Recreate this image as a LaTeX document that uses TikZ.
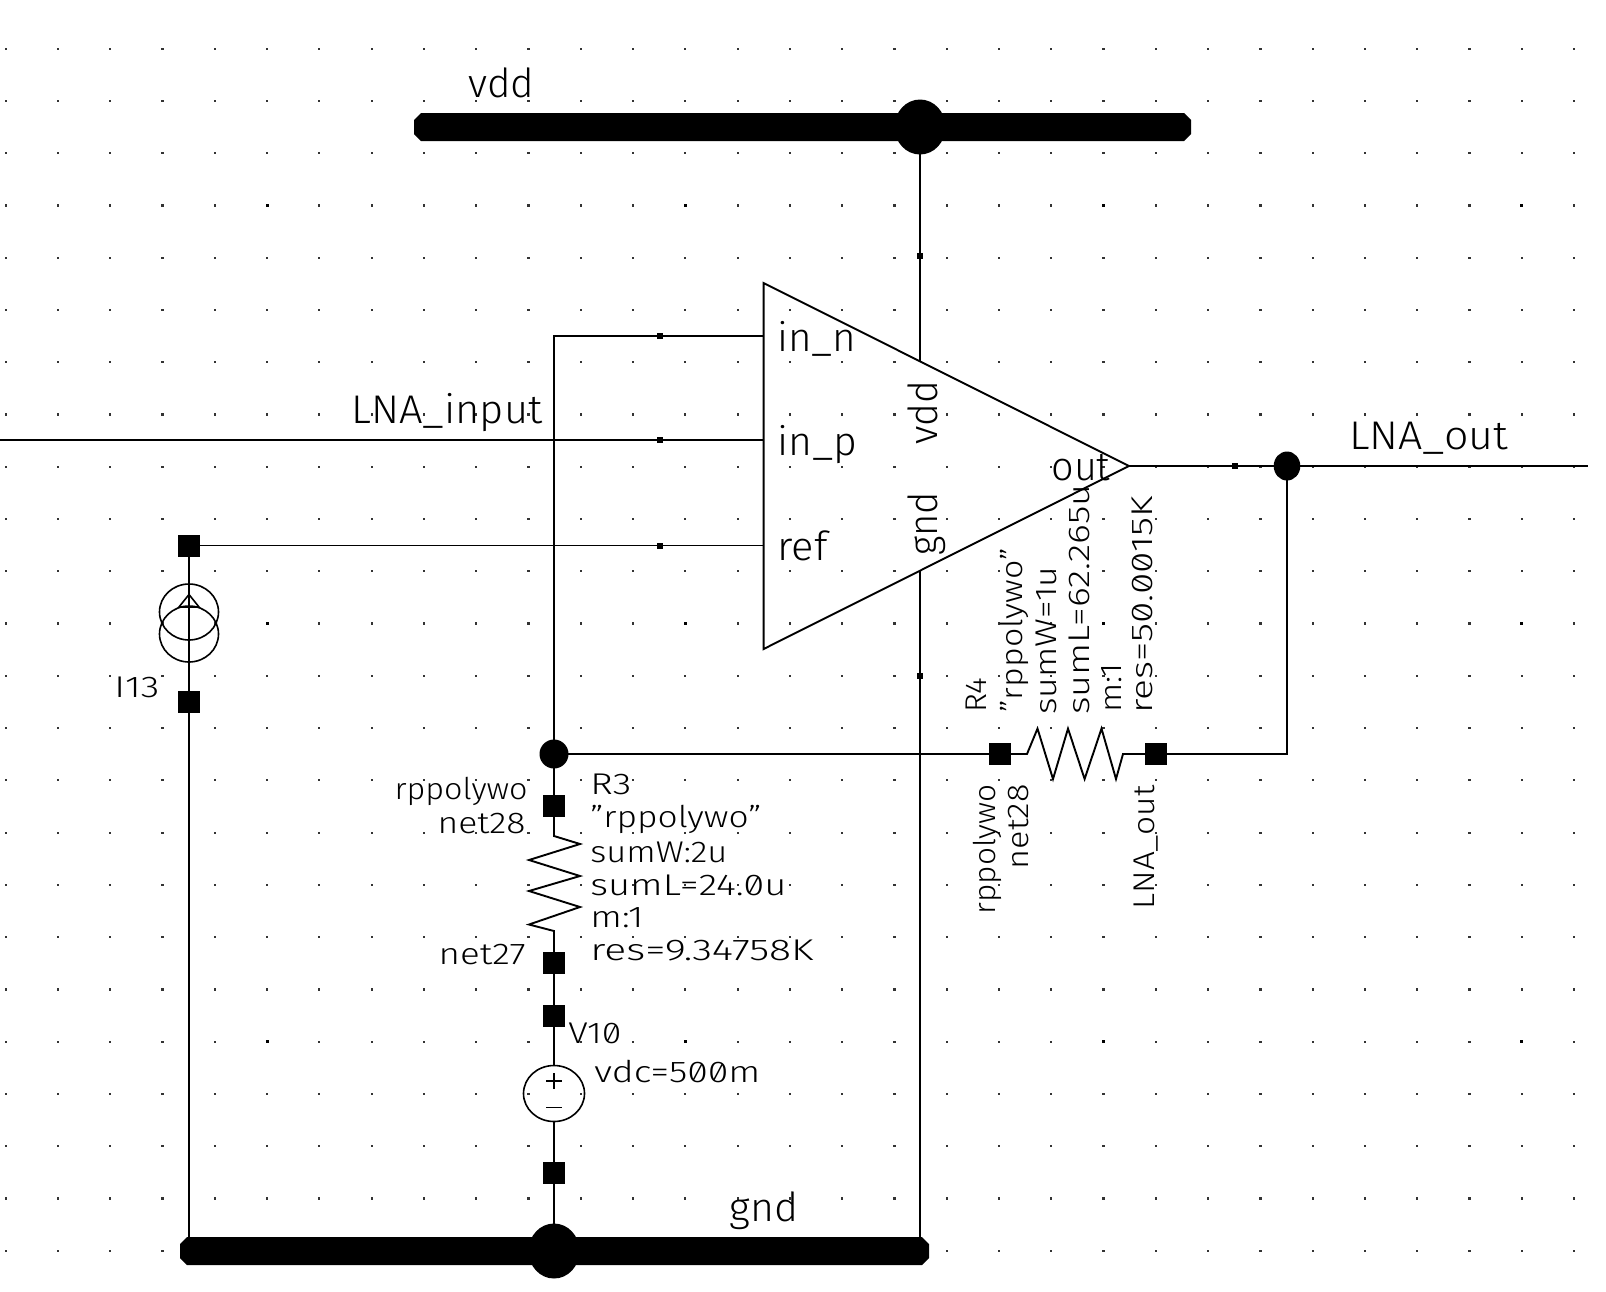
\documentclass[tikz,border=0pt]{standalone}
\usepackage{fontspec}
\setmainfont[Numbers=SlashedZero]{Fira Sans Light}
\usetikzlibrary{shapes.geometric}
\newcommand{\wt}[2]{\resizebox{\dimexpr #1pt/2\relax}{\height}{#2}}
\tikzset{
  wire/.style={line width=0.95pt,black,line join=miter},
  bar/.style={fill=black,draw=none},
  junction/.style={ellipse,fill=black,inner sep=0pt,minimum width=#1},
  pinsq/.style={rectangle,fill=black,inner sep=0pt,minimum size=11pt},
  tinysq/.style={rectangle,fill=black,inner sep=0pt,minimum size=3pt},
  biglab/.style={inner sep=0pt,anchor=base west,font=\fontsize{20}{24}\selectfont,text=black},
  smalllab/.style={inner sep=0pt,anchor=base west,font=\fontsize{15}{18}\selectfont,text=black},
}
\begin{document}
\begin{tikzpicture}[x=0.5pt,y=-0.5pt]
\useasboundingbox (0,0) rectangle (1606,1291);
\fill[white] (0,0) rectangle (1606,1291);
% grid
\foreach \k in {0,...,30}{\foreach \j in {0,...,23}{
  \fill[black!80] ({5.6+52.28*\k-1},{48.5+52.27*\j-1}) rectangle +(2.2,2.2);
}}
\foreach \k in {5,13,21,29}{\foreach \j in {3,11,19}{
  \fill[black] ({5.6+52.28*\k-1.3},{48.5+52.27*\j-1.6}) rectangle +(2.8,3.2);
}}
% rails
\fill[bar] (414,120) -- (421,113) -- (1184,113) -- (1191,120) -- (1191,134) -- (1184,141) -- (421,141) -- (414,134) -- cycle;
\fill[bar] (180,1244) -- (187,1237) -- (922,1237) -- (929,1244) -- (929,1258) -- (922,1265) -- (187,1265) -- (180,1258) -- cycle;
% amplifier
\coordinate (ampin) at (763.6,336);
\coordinate (ampip) at (763.6,440);
\coordinate (ampref) at (763.6,545.5);
\coordinate (ampout) at (1129,466);
\coordinate (ampvdd) at (920,362);
\coordinate (ampgnd) at (920,571);
\coordinate (inedge) at (0,440);
\coordinate (outedge) at (1588,466);
\draw[wire] (763.6,283) -- (ampout) -- (763.6,649) -- cycle;
% nodes
\node[junction=25.5pt,minimum height=27.5pt] (vddj) at (920,127) {};
\node[junction=25.5pt,minimum height=27.5pt] (gndj) at (554,1251) {};
\node[junction=14.5pt,minimum height=14.5pt] (fbj) at (554,754) {};
\node[junction=13.3pt,minimum height=14.5pt] (outj) at (1287,466) {};
\node[pinsq] (ia) at (189,545.5) {};
\node[pinsq] (ib) at (189,702) {};
\node[pinsq] (r3a) at (554,805.6) {};
\node[pinsq] (r3b) at (554,963) {};
\node[pinsq] (va) at (554,1016) {};
\node[pinsq] (vb) at (554,1173) {};
\node[pinsq] (r4a) at (999.6,754) {};
\node[pinsq] (r4b) at (1156,754) {};
\node[tinysq] (s1) at (659.5,336) {};
\node[tinysq] (s2) at (659.5,440) {};
\node[tinysq] (s3) at (659.5,545.5) {};
\node[tinysq] (s4) at (920,256) {};
\node[tinysq] (s5) at (920,675.6) {};
\node[tinysq] (s6) at (1234.6,466) {};
\coordinate (ibgnd) at (189,1251);
\coordinate (gndr) at (920,1251);
% wires
\draw[wire] (vddj.center) -- (s4.center) -- (ampvdd);
\draw[wire] (ampgnd) -- (s5.center) -- (gndr);
\draw[wire] (fbj.center) -- (554,336) -- (s1.center) -- (ampin);
\draw[wire] (inedge) -- (s2.center) -- (ampip);
\draw[wire] (ia.center) -- (s3.center) -- (ampref);
\draw[wire] (ampout) -- (s6.center) -- (outj.center) -- (outedge);
\draw[wire] (ia.center) -- (ib.center) -- (ibgnd);
\draw[wire] (fbj.center) -- (r3a.center) -- (554,836) -- (580,844) -- (529,860) -- (580,876) -- (529,891) -- (580,907) -- (529,924.5) -- (554,931) -- (r3b.center) -- (va.center) -- (554,1065);
\draw[wire] (554,1122) -- (vb.center) -- (gndj.center);
\draw[wire] (fbj.center) -- (r4a.center) -- (1027,754) -- (1037.5,728.6) -- (1053,779) -- (1068,728.6) -- (1084.6,779) -- (1101.5,728.6) -- (1116,779) -- (1123,754) -- (r4b.center) -- (1287,754) -- (outj.center);
% current source
\draw[wire,line width=0.8pt] (189,612) circle[x radius=29.5,y radius=28];
\draw[wire,line width=0.8pt] (189,634) circle[x radius=29.5,y radius=28];
\draw[wire,line width=0.8pt] (189,594.5) -- (179,607) -- (199,607) -- cycle;
% voltage source
\draw[wire,line width=0.8pt] (554,1093.5) circle[x radius=30.5,y radius=28];
\draw[wire,line width=0.8pt] (554,1073) -- (554,1089) (546,1081) -- (562,1081) (546,1107.6) -- (562,1107.6);
% labels
\node[biglab] (lvdd) at (468,97) {\wt{66}{vdd}};
\node[biglab] (lgnd) at (729,1221) {\wt{68.6}{gnd}};
\node[biglab] (lin) at (351,423) {\wt{191}{LNA\_input}};
\node[biglab] (lout) at (1349,449) {\wt{159}{LNA\_out}};
\node[biglab] (pin) at (777,351) {\wt{79}{in\_n}};
\node[biglab] (pip) at (777,455) {\wt{80}{in\_p}};
\node[biglab] (pre) at (777,560) {\wt{50}{ref}};
\node[biglab] (pou) at (1051,480) {\wt{59}{out}};
\node[biglab,rotate=90] (pvd) at (937,445) {\wt{63.8}{vdd}};
\node[biglab,rotate=90] (pgn) at (937,556) {\wt{63.8}{gnd}};
\node[smalllab] (i13) at (114,697) {\wt{45}{I13}};
\node[smalllab] (t1) at (590,794) {\wt{41}{R3}};
\node[smalllab] (t2) at (590,827) {\wt{171}{"rppolywo"}};
\node[smalllab] (t3) at (590,862) {\wt{137}{sumW:2u}};
\node[smalllab] (t4) at (590,895) {\wt{196}{sumL=24.0u}};
\node[smalllab] (t5) at (590,927) {\wt{53}{m:1}};
\node[smalllab] (t6) at (590,960) {\wt{223}{res=9.34758K}};
\node[smalllab,anchor=base east] (t7) at (528,799) {\wt{133}{rppolywo}};
\node[smalllab,anchor=base east] (t8) at (526,833) {\wt{88}{net28}};
\node[smalllab,anchor=base east] (t9) at (526,964) {\wt{87}{net27}};
\node[smalllab] (t10) at (568,1043) {\wt{53}{V10}};
\node[smalllab] (t11) at (594,1082) {\wt{166}{vdc=500m}};
\node[smalllab,rotate=90] (u1) at (986,713) {\wt{35}{R4}};
\node[smalllab,rotate=90] (u2) at (1022,713) {\wt{164.5}{"rppolywo"}};
\node[smalllab,rotate=90] (u3) at (1056,715) {\wt{148}{sumW=1u}};
\node[smalllab,rotate=90] (u4) at (1089,715) {\wt{230}{sumL=62.265u}};
\node[smalllab,rotate=90] (u5) at (1121,713) {\wt{49}{m:1}};
\node[smalllab,rotate=90] (u6) at (1152,714) {\wt{217}{res=50.0015K}};
\node[smalllab,rotate=90,anchor=base east] (u7) at (995,784) {\wt{130}{rppolywo}};
\node[smalllab,rotate=90,anchor=base east] (u8) at (1028,784) {\wt{85}{net28}};
\node[smalllab,rotate=90,anchor=base east] (u9) at (1154,785) {\wt{124}{LNA\_out}};
\end{tikzpicture}
\end{document}
